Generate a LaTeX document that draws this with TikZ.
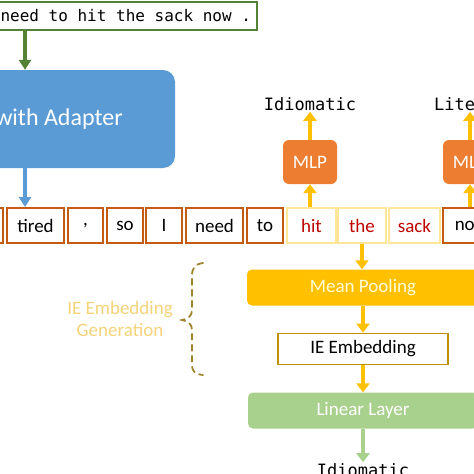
\documentclass[tikz,border=0pt]{standalone}
\usepackage{fontspec}
\setmainfont{Carlito}
\newfontfamily\monof{DejaVu Sans Mono}
\usetikzlibrary{arrows.meta}
\definecolor{cblue}{HTML}{5B9BD5}
\definecolor{corange}{HTML}{ED7D31}
\definecolor{cgold}{HTML}{FFC000}
\definecolor{clgreen}{HTML}{A9D18E}
\definecolor{cdgreen}{HTML}{548235}
\definecolor{cbrown}{HTML}{C55A11}
\definecolor{clyellow}{HTML}{FFE699}
\definecolor{cred}{HTML}{C00000}
\definecolor{cbrace}{HTML}{A0832D}
\definecolor{clabel}{HTML}{F5D37A}
\definecolor{cframe}{HTML}{BF9000}
\tikzset{
  tok/.style={draw=cbrown, line width=2pt, fill=white, minimum height=35pt, inner sep=0pt, font=\fontsize{19}{22}\selectfont},
  idtok/.style={draw=clyellow, line width=2pt, fill=white, minimum height=35pt, inner sep=0pt, text=cred, font=\fontsize{19}{22}\selectfont},
  mlpbox/.style={fill=corange, rounded corners=6pt, minimum width=54pt, minimum height=44pt, inner sep=0pt, text=white, font=\fontsize{19}{22}\selectfont},
  monolab/.style={font=\monof\fontsize{17}{20}\selectfont, inner sep=1pt},
  arr/.style={line width=4.5pt, -{Triangle[width=13pt,length=9pt]}},
}
\begin{document}
\begin{tikzpicture}[x=1pt,y=-1pt]
\useasboundingbox (0,0) rectangle (474,474);
\clip (0,0) rectangle (474,474);
\fill[white] (0,0) rectangle (474,474);

% input sentence
\node[draw=cdgreen, line width=2pt, anchor=east, inner xsep=6pt, minimum height=28pt, font=\monof\fontsize{16}{19}\selectfont] (inp) at (258,16) {need to hit the sack now .};
\coordinate (ax) at (25,0);

% encoder
\node[fill=cblue, rounded corners=12pt, minimum width=232pt, minimum height=98pt, text=white, font=\fontsize{24}{28}\selectfont] (enc) at (59,119) {with Adapter};

\draw[arr, draw=cdgreen, line width=4pt, -{Triangle[width=12pt,length=10pt]}, color=cdgreen] (inp.south -| ax) -- (enc.north -| ax);

% tokens
\node[tok, minimum width=43pt] (t0) at (-19,225.5) {};
\node[tok, minimum width=57pt] (tired) at (35.5,225.5) {tired};
\node[tok, minimum width=35pt] (comma) at (85.5,225.5) {,};
\node[tok, minimum width=36pt] (so) at (125,225.5) {so};
\node[tok, minimum width=36pt] (tI) at (164,225.5) {I};
\node[tok, minimum width=57pt] (need) at (214.5,225.5) {need};
\node[tok, minimum width=36pt] (to) at (265,225.5) {to};
\node[idtok, minimum width=49pt] (hit) at (311.5,225.5) {hit};
\node[idtok, minimum width=48pt] (the) at (362,225.5) {the};
\node[idtok, minimum width=51pt] (sack) at (414.5,225.5) {sack};
\node[tok, minimum width=57pt] (now) at (471.5,225.5) {now};

\draw[arr, color=cblue, line width=4pt, -{Triangle[width=12pt,length=10pt]}] (enc.south -| ax) -- (tired.north -| ax);

% MLP heads
\node[mlpbox] (mlp1) at (310,162) {MLP};
\node[mlpbox] (mlp2) at (470,162) {MLP};
\node[monolab] (lab1) at (310,104) {Idiomatic};
\node[monolab] (lab2) at (470,104) {Literal};
\draw[arr, color=cgold] (mlp1.south |- hit.north) -- (mlp1.south);
\draw[arr, color=cgold] (mlp2.south |- now.north) -- (mlp2.south);
\draw[arr, color=cgold] (mlp1.north) -- (lab1.south);
\draw[arr, color=cgold] (mlp2.north) -- (lab2.south);

% IE embedding generation
\node[fill=cgold, rounded corners=5pt, minimum width=232pt, minimum height=36pt, text=white!85!yellow, font=\fontsize{19}{22}\selectfont] (mean) at (363,287.5) {Mean Pooling};
\node[draw=cframe, line width=1.8pt, fill=white, minimum width=170pt, minimum height=31pt, font=\fontsize{19}{22}\selectfont] (iee) at (363,349) {IE Embedding};
\node[fill=clgreen, rounded corners=5pt, minimum width=230pt, minimum height=36pt, text=white, font=\fontsize{19}{22}\selectfont] (lin) at (363,410.5) {Linear Layer};
\node[monolab] (lab3) at (363,470) {Idiomatic};

\draw[arr, color=cgold] (the.south) -- (the.south |- mean.north);
\draw[arr, color=cgold] (mean.south) -- (iee.north);
\draw[arr, color=cgold] (iee.south) -- (lin.north);
\draw[arr, color=clgreen] (lin.south) -- (lab3.north);

% brace
\coordinate (bt) at (203,263);
\coordinate (bb) at (203,375);
\coordinate (btip) at (182,320);
\draw[cbrace, line width=1.8pt, dash pattern=on 6pt off 5pt, line cap=round]
  (bt) .. controls (195,264) and (192,268) .. (192,276)
  -- (192,310) .. controls (192,316) and (188,319) .. (btip)
  .. controls (188,321) and (192,324) .. (192,330)
  -- (192,364) .. controls (192,372) and (195,374) .. (bb);
\node[text=clabel, align=center, font=\fontsize{19}{22}\selectfont] (gen) at (120,319) {IE Embedding\\Generation};
\end{tikzpicture}
\end{document}
